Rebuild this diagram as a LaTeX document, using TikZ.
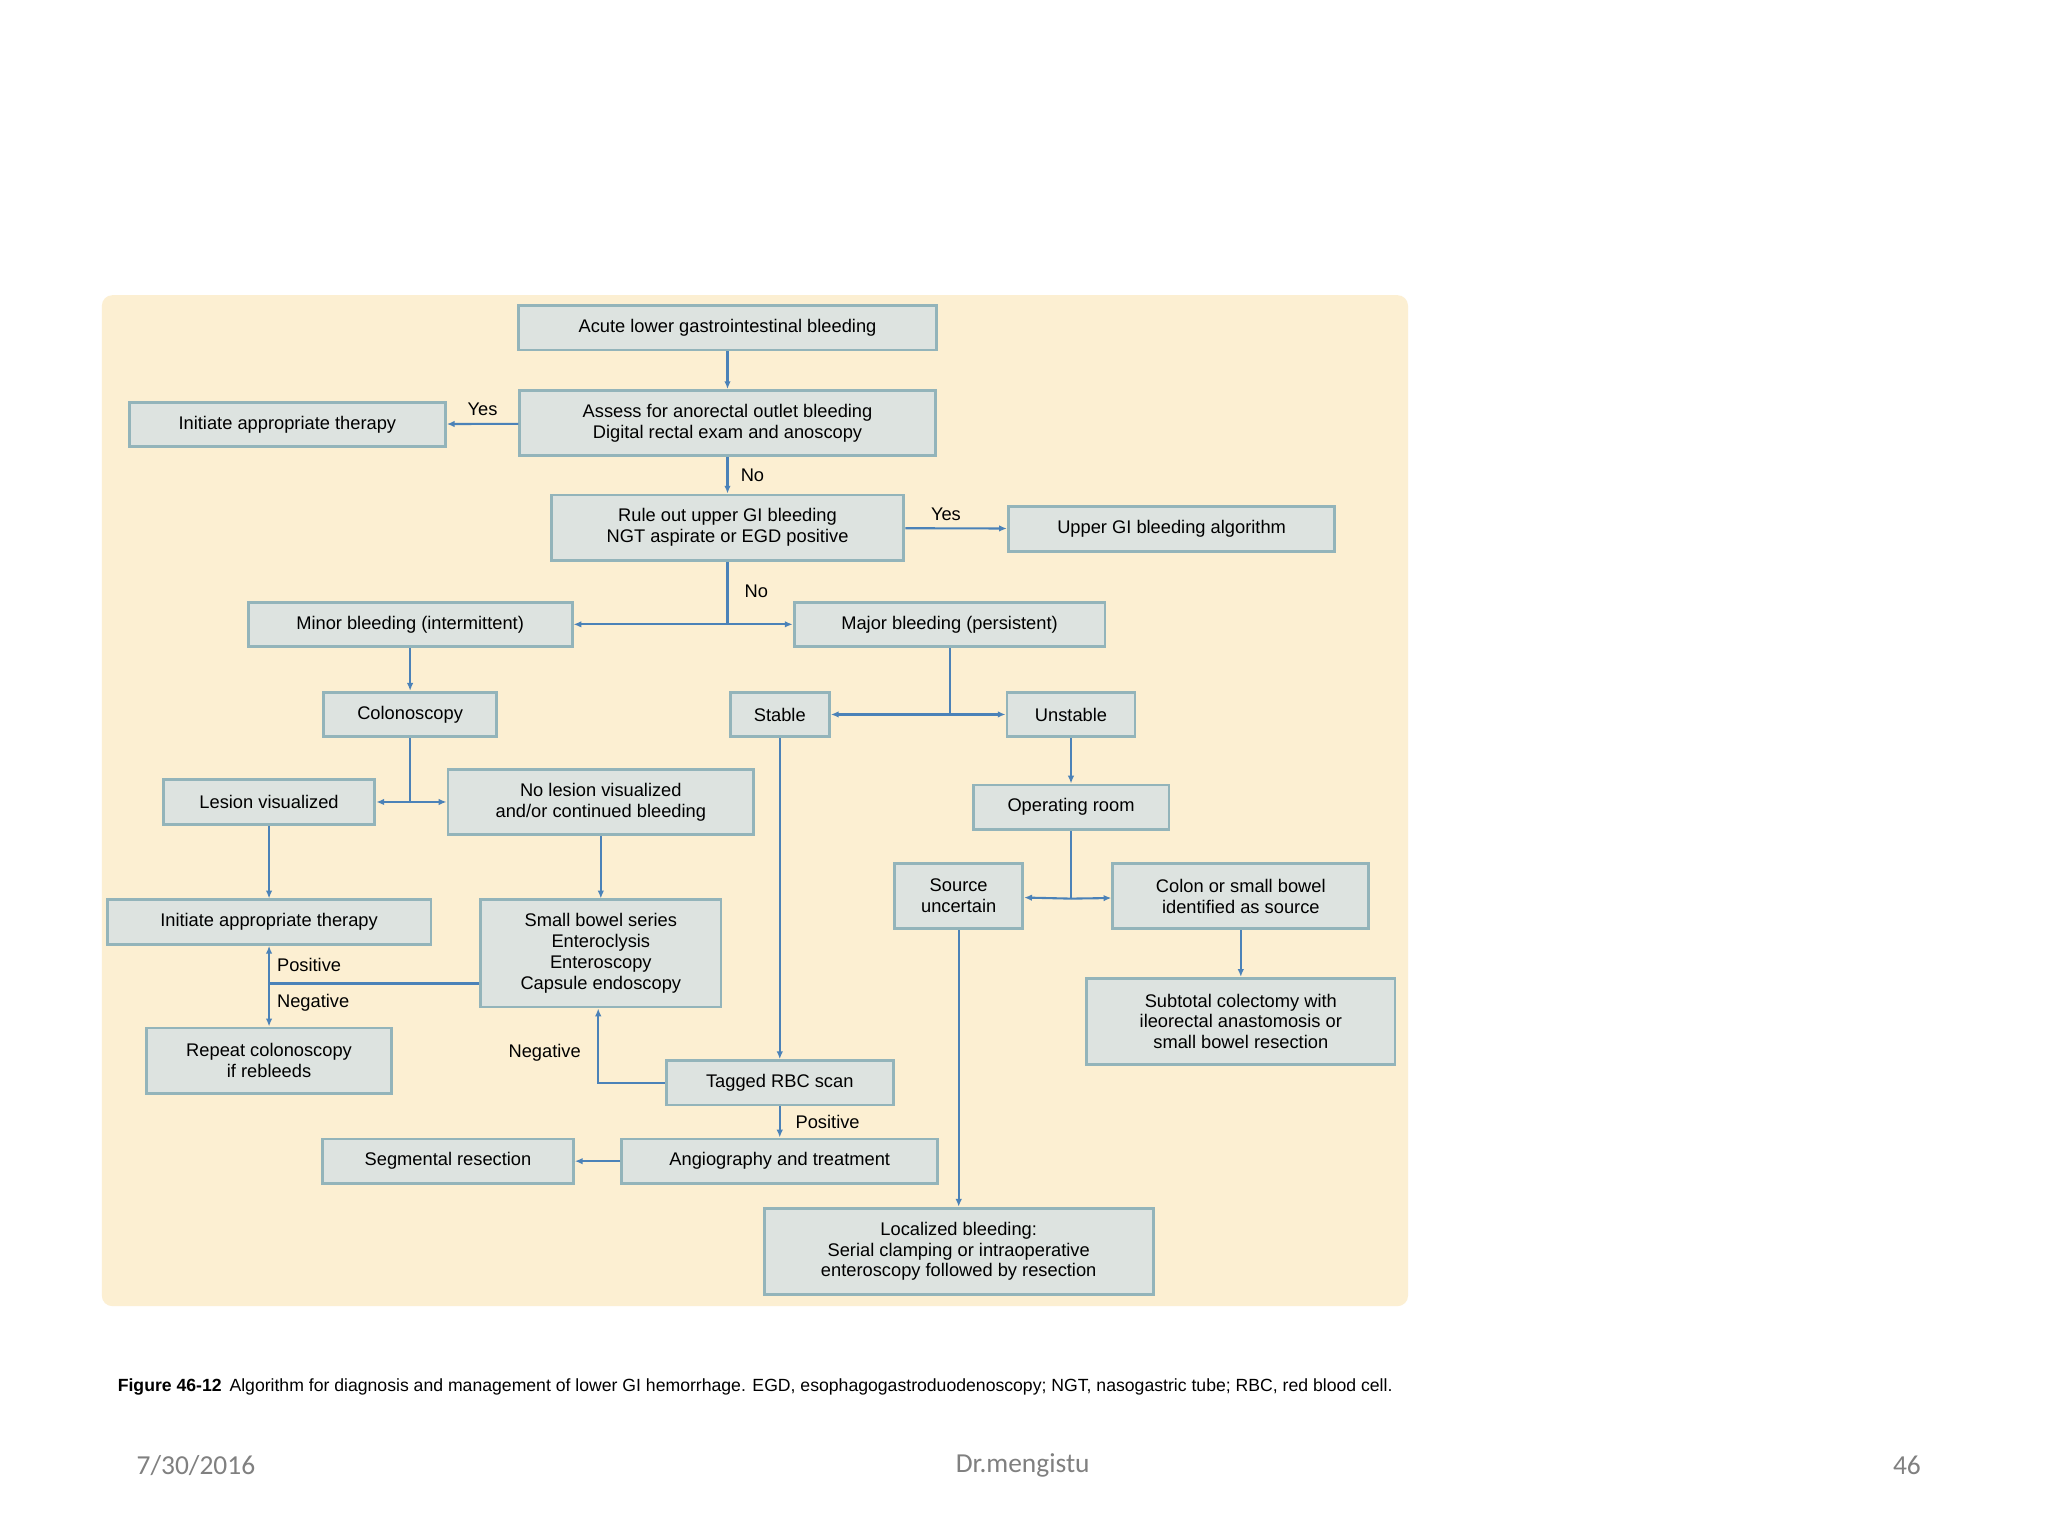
\documentclass[tikz,border=0pt]{standalone}
\usepackage{fontspec}
\setmainfont{Liberation Sans}
\newfontfamily\foot{Carlito}
\usetikzlibrary{arrows.meta}
\definecolor{panel}{HTML}{FCEFD2}
\definecolor{boxfill}{HTML}{DDE3E0}
\definecolor{boxline}{HTML}{93B4BA}
\definecolor{arr}{HTML}{4B82B8}
\tikzset{
 bx/.style={draw=boxline,fill=boxfill,line width=2.2pt,align=center,inner sep=0pt,font=\fontsize{14}{16}\selectfont},
 ar/.style={draw=arr,line width=1.6pt,-{Latex[length=6pt,width=5pt]}},
 ln/.style={draw=arr,line width=1.6pt},
 lb/.style={font=\fontsize{14}{16}\selectfont}
}
\begin{document}
\begin{tikzpicture}[x=1pt,y=-1pt]
\useasboundingbox (0,0) rectangle (1568,1176);
\fill[white] (0,0) rectangle (1568,1176);
\fill[panel,rounded corners=8pt] (78,226) rectangle (1078,1000);
\newcommand{\B}[5]{\node[bx,minimum width=#3pt,minimum height=#4pt] (#1) at (#2) {#5};}
\B{acute}{557,251}{320}{34}{Acute lower gastrointestinal bleeding}
\B{assess}{557,324}{318}{50}{Assess for anorectal outlet bleeding\\Digital rectal exam and anoscopy}
\B{initL}{220,325}{242}{34}{Initiate appropriate therapy}
\B{rule}{557,404}{270}{50}{Rule out upper GI bleeding\\NGT aspirate or EGD positive}
\B{upper}{897,405}{250}{34}{Upper GI bleeding algorithm}
\B{minor}{314,478}{248}{34}{Minor bleeding (intermittent)}
\B{major}{727,478}{238}{34}{Major bleeding (persistent)}
\B{colon}{314,547}{132}{34}{Colonoscopy}
\B{stable}{597,547}{76}{34}{Stable}
\B{unstable}{820,547}{98}{34}{Unstable}
\B{lesion}{206,614}{162}{34}{Lesion visualized}
\B{nolesion}{460,614}{234}{50}{No lesion visualized\\and/or continued bleeding}
\B{OR}{820,618}{150}{34}{Operating room}
\B{initT}{206,706}{248}{34}{Initiate appropriate therapy}
\B{small}{460,730}{184}{82}{Small bowel series\\Enteroclysis\\Enteroscopy\\Capsule endoscopy}
\B{source}{734,686}{98}{50}{Source\\uncertain}
\B{colsrc}{950,686}{196}{50}{Colon or small bowel\\identified as source}
\B{subtotal}{950,782}{236}{66}{Subtotal colectomy with\\ileorectal anastomosis or\\small bowel resection}
\B{repeat}{206,812}{188}{50}{Repeat colonoscopy\\if rebleeds}
\B{tagged}{597,829}{174}{34}{Tagged RBC scan}
\B{seg}{343,889}{192}{34}{Segmental resection}
\B{angio}{597,889}{242}{34}{Angiography and treatment}
\B{local}{734,958}{298}{66}{Localized bleeding:\\Serial clamping or intraoperative\\enteroscopy followed by resection}

\coordinate (j1) at (557,478);
\coordinate (j2) at (314,614);
\coordinate (j3) at (727,547);
\coordinate (j4) at (820,688);
\coordinate (j5) at (206,753);
\coordinate (j6) at (458,829);

\draw[ar] (acute) -- (assess);
\draw[ar] (assess) -- (initL) node[lb,pos=0.5,above=2pt] {Yes};
\draw[ar] (assess) -- (rule) node[lb,pos=0.5,right=6pt] {No};
\draw[ar] (rule) -- (upper) node[lb,pos=0.4,above=2pt] {Yes};
\draw[ln] (rule.south) -- (j1);
\node[lb] at (579,453) {No};
\draw[ar] (j1) -- (minor);
\draw[ar] (j1) -- (major);
\draw[ar] (minor) -- (colon);
\draw[ln] (colon) -- (j2);
\draw[ar] (j2) -- (lesion);
\draw[ar] (j2) -- (nolesion);
\draw[ln] (major.south -| j3) -- (j3);
\draw[ar] (j3) -- (stable);
\draw[ar] (j3) -- (unstable);
\draw[ar] (unstable) -- (OR);
\draw[ln] (OR) -- (j4);
\draw[ar] (j4) -- (source);
\draw[ar] (j4) -- (colsrc);
\draw[ar] (colsrc) -- (subtotal);
\draw[ar] (source) -- (source |- local.north);
\draw[ar] (lesion) -- (initT);
\draw[ar] (nolesion.south -| small.north) -- (small);
\draw[ln] (small.west |- j5) -- (j5);
\draw[ar] (j5) -- (initT) node[lb,pos=0.5,right=2pt] {Positive};
\draw[ar] (j5) -- (repeat) node[lb,pos=0.45,right=2pt] {Negative};
\draw[ar] (stable) -- (tagged);
\draw[ar] (tagged.west) -- (j6) -- (j6 |- small.south);
\node[lb] at (417,806) {Negative};
\draw[ar] (tagged) -- (angio) node[lb,pos=0.5,right=8pt] {Positive};
\draw[ar] (angio) -- (seg);

\node[anchor=west,font=\fontsize{13.5}{15}\selectfont,inner sep=0pt] (cap) at (90,1062) {\textbf{Figure 46-12}\, Algorithm for diagnosis and management of lower GI hemorrhage. EGD, esophagogastroduodenoscopy; NGT, nasogastric tube; RBC, red blood cell.};
\node[font=\foot\fontsize{21}{24}\selectfont,text=gray] (d) at (150,1122) {7/30/2016};
\node[font=\foot\fontsize{21}{24}\selectfont,text=gray] (a) at (783,1122) {Dr.mengistu};
\node[font=\foot\fontsize{21}{24}\selectfont,text=gray] (p) at (1460,1122) {46};
\end{tikzpicture}
\end{document}
